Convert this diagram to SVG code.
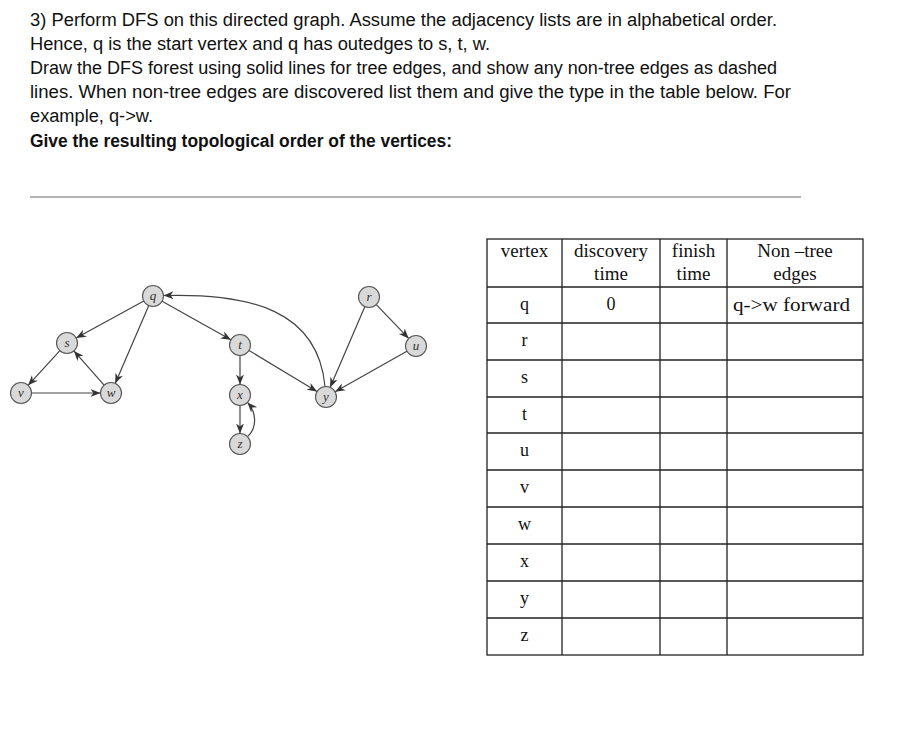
<svg xmlns="http://www.w3.org/2000/svg" width="917" height="732" viewBox="0 0 917 732">
<style>
.q{font-family:"Liberation Sans",Arial,sans-serif;font-size:18px;fill:#111}
.qb{font-family:"Liberation Sans",Arial,sans-serif;font-size:18px;font-weight:bold;fill:#111}
.nd{fill:#d9d9d9;stroke:#555;stroke-width:1.1}
.nl{font-family:"Liberation Serif","Times New Roman",serif;font-style:italic;font-size:13px;fill:#333;text-anchor:middle}
.e{stroke:#444;stroke-width:1.2;fill:none;marker-end:url(#ah)}
.t{font-family:"Liberation Serif","Times New Roman",serif;font-size:19px;fill:#111;text-anchor:middle}
.tr{font-family:"Liberation Serif","Times New Roman",serif;font-size:18px;fill:#111;text-anchor:middle}
.g{stroke:#222;stroke-width:1.3;fill:none}
</style>
<defs>
<marker id="ah" markerUnits="userSpaceOnUse" markerWidth="11" markerHeight="9" refX="10" refY="4" orient="auto">
<path d="M0,0 L10,4 L0,8 L3,4 z" fill="#333"/>
</marker>
</defs>
<rect width="917" height="732" fill="#fff"/>
<g id="question">
<text class="q" x="30" y="26" textLength="747" lengthAdjust="spacingAndGlyphs">3)  Perform DFS on this directed graph.  Assume the adjacency lists are in alphabetical order.</text>
<text class="q" x="30" y="50" textLength="460" lengthAdjust="spacingAndGlyphs">Hence, q is the start vertex and q has outedges to s, t, w.</text>
<text class="q" x="30" y="74" textLength="747" lengthAdjust="spacingAndGlyphs">Draw the DFS forest using solid lines for tree edges, and show any non-tree edges as dashed</text>
<text class="q" x="30" y="98" textLength="761" lengthAdjust="spacingAndGlyphs">lines. When non-tree edges are discovered list them and give the type in the table below.  For</text>
<text class="q" x="30" y="122" textLength="123" lengthAdjust="spacingAndGlyphs">example, q-&gt;w.</text>
<text class="qb" x="30" y="147" textLength="422" lengthAdjust="spacingAndGlyphs">Give the resulting topological order of the vertices:</text>
<line x1="30" y1="197" x2="801" y2="197" stroke="#999" stroke-width="1.5"/>
</g>
<g id="connectors">
<line class="e" x1="143.8" y1="301" x2="76.2" y2="338"/>
<line class="e" x1="162.1" y1="301.2" x2="230.9" y2="339.8"/>
<line class="e" x1="148.8" y1="305.6" x2="115.2" y2="383.4"/>
<line class="e" x1="59.9" y1="350.7" x2="28.1" y2="385.3"/>
<line class="e" x1="31.5" y1="393" x2="100.5" y2="393"/>
<line class="e" x1="104.1" y1="385.1" x2="73.9" y2="350.9"/>
<line class="e" x1="240" y1="355.5" x2="240" y2="384.5"/>
<line class="e" x1="249" y1="350.4" x2="317" y2="391.6"/>
<line class="e" x1="240" y1="405.5" x2="240" y2="433.5"/>
<line class="e" x1="364.9" y1="306.6" x2="330.1" y2="387.4"/>
<line class="e" x1="376.3" y1="304.6" x2="408.7" y2="338.4"/>
<line class="e" x1="406.9" y1="351.2" x2="335.1" y2="391.8"/>
<path class="e" d="M325,386.5 C318,310 250,293 163.5,295.5"/>
<path class="e" d="M247.5,436.6 C257,428 257,413 247.5,402.4"/>
</g>
<g id="node-q"><circle class="nd" cx="153" cy="296" r="10.5"/><text class="nl" x="153" y="300">q</text></g>
<g id="node-s"><circle class="nd" cx="67" cy="343" r="10.5"/><text class="nl" x="67" y="347">s</text></g>
<g id="node-v"><circle class="nd" cx="21" cy="393" r="10.5"/><text class="nl" x="21" y="397">v</text></g>
<g id="node-w"><circle class="nd" cx="111" cy="393" r="10.5"/><text class="nl" x="111" y="397">w</text></g>
<g id="node-t"><circle class="nd" cx="240" cy="345" r="10.5"/><text class="nl" x="240" y="349">t</text></g>
<g id="node-x"><circle class="nd" cx="240" cy="395" r="10.5"/><text class="nl" x="240" y="399">x</text></g>
<g id="node-z"><circle class="nd" cx="240" cy="444" r="10.5"/><text class="nl" x="240" y="448">z</text></g>
<g id="node-y"><circle class="nd" cx="326" cy="397" r="10.5"/><text class="nl" x="326" y="401">y</text></g>
<g id="node-r"><circle class="nd" cx="369" cy="297" r="10.5"/><text class="nl" x="369" y="301">r</text></g>
<g id="node-u"><circle class="nd" cx="416" cy="346" r="10.5"/><text class="nl" x="416" y="350">u</text></g>
<g id="table">
<rect class="g" x="487" y="239" width="376" height="416"/>
<path class="g" d="M562,239V655 M660,239V655 M727,239V655 M487,287H863 M487,323H863 M487,360H863 M487,397H863 M487,433H863 M487,470H863 M487,507H863 M487,544H863 M487,581H863 M487,618H863"/>
<text class="t" x="524.5" y="257">vertex</text>
<text class="t" x="611" y="257">discovery</text>
<text class="t" x="611" y="280">time</text>
<text class="t" x="693.5" y="257">finish</text>
<text class="t" x="693.5" y="280">time</text>
<text class="t" x="795" y="257">Non –tree</text>
<text class="t" x="795" y="280">edges</text>
<text class="tr" x="524.5" y="310">q</text>
<text class="tr" x="611" y="310">0</text>
<text class="t" x="791.5" y="311" textLength="117" lengthAdjust="spacingAndGlyphs">q-&gt;w forward</text>
<text class="tr" x="524.5" y="346">r</text>
<text class="tr" x="524.5" y="383">s</text>
<text class="tr" x="524.5" y="420">t</text>
<text class="tr" x="524.5" y="456">u</text>
<text class="tr" x="524.5" y="493">v</text>
<text class="tr" x="524.5" y="530">w</text>
<text class="tr" x="524.5" y="567">x</text>
<text class="tr" x="524.5" y="604">y</text>
<text class="tr" x="524.5" y="641">z</text>
</g>
</svg>
